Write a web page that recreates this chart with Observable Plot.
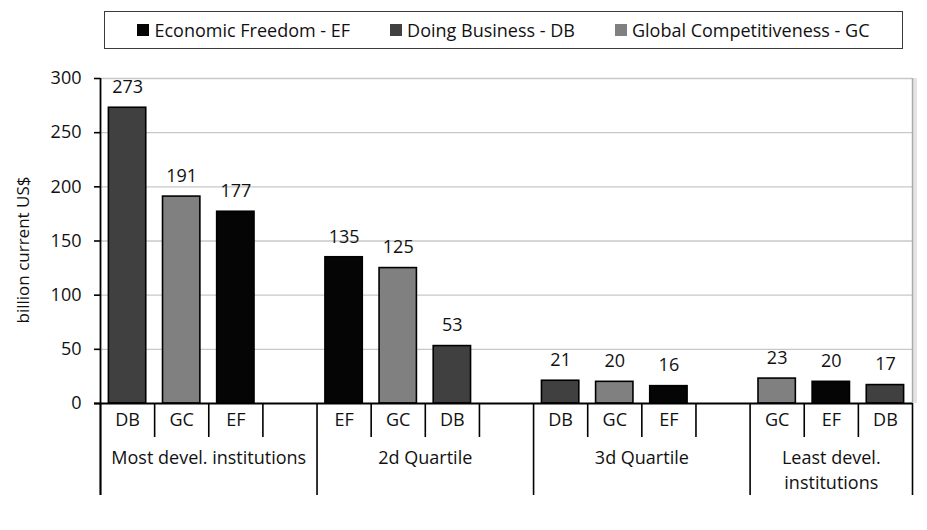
<!DOCTYPE html>
<html><head><meta charset="utf-8">
<script src="https://cdn.jsdelivr.net/npm/d3@7"></script>
<script src="https://cdn.jsdelivr.net/npm/@observablehq/plot@0.6"></script>
<style>
body{margin:0;background:#fff;font-family:"Open Sans",sans-serif;}
#wrap{position:relative;width:927px;height:530px;overflow:hidden;}
#legend{position:absolute;left:104px;top:11px;width:799px;height:38px;border:1.5px solid #3a3a3a;box-sizing:border-box;display:flex;align-items:center;justify-content:center;gap:40px;font-size:18px;color:#111;}
.item{display:flex;align-items:center;gap:5px;white-space:nowrap}
.sw{width:12px;height:12px;display:inline-block}
#chart{position:absolute;left:0;top:60px;}
</style></head><body>
<div id="wrap"><div id="legend"></div><div id="chart"></div></div>
<script>
// ---- data ----
const seriesCodes = ["EF", "DB", "GC"];
const seriesNames = ["Economic Freedom - EF", "Doing Business - DB", "Global Competitiveness - GC"];
const seriesColors = ["#050505", "#404040", "#808080"];
const groupLabels = ["Most devel. institutions", "2d Quartile", "3d Quartile", "Least devel.\ninstitutions"];
const groupCodes = [["DB", "GC", "EF"], ["EF", "GC", "DB"], ["DB", "GC", "EF"], ["GC", "EF", "DB"]];
const groupValues = [[273, 191, 177], [135, 125, 53], [21, 20, 16], [23, 20, 17]];
const yTicks = [0, 50, 100, 150, 200, 250, 300];
const yLabel = "billion current US$";

// ---- layout: each group gets its bars plus one spacer slot (except the last) ----
const rows = [], groups = [];
let cursor = 0;
groupLabels.forEach((label, g) => {
  const codes = groupCodes[g];
  const nSlots = codes.length + (g < groupLabels.length - 1 ? 1 : 0);
  codes.forEach((code, i) => rows.push({group: label, code, value: groupValues[g][i], slot: cursor + i}));
  groups.push({label, start: cursor, end: cursor + nSlots});
  cursor += nSlots;
});
const totalSlots = cursor;
const innerSeps = groups.flatMap(gr => d3.range(gr.start + 1, gr.end));
const outerSeps = [...groups.map(gr => gr.start), totalSlots];

// ---- legend ----
const legend = document.getElementById("legend");
seriesCodes.forEach((c, i) => {
  const it = document.createElement("div");
  it.className = "item";
  it.innerHTML = `<span class="sw" style="background:${seriesColors[i]}"></span><span>${seriesNames[i]}</span>`;
  legend.appendChild(it);
});

// ---- chart ----
const W = 927, H = 470, mt = 18, mb = 127, ml = 100, mr = 15;
const frameH = H - mt - mb;
const pad = 0.155;
const FONT = "Open Sans, sans-serif";

const chart = Plot.plot({
  width: W, height: H, marginTop: mt, marginBottom: mb, marginLeft: ml, marginRight: mr,
  style: {fontFamily: FONT, fontSize: "18px", color: "#111", background: "transparent"},
  x: {domain: [0, totalSlots], axis: null},
  y: {domain: [0, 300], axis: null},
  color: {domain: seriesCodes, range: seriesColors},
  marks: [
    Plot.ruleY(yTicks.filter(t => t > 0), {stroke: "#c8c8c8", strokeWidth: 1.4}),
    Plot.ruleX([totalSlots], {stroke: "#e4e4e4", strokeWidth: 4, dx: 2.5}),
    Plot.ruleX([totalSlots], {stroke: "#a8a8a8", strokeWidth: 1.4}),
    Plot.rect(rows, {x1: d => d.slot + pad, x2: d => d.slot + 1 - pad, y1: 0, y2: "value",
      fill: "code", stroke: "#000", strokeWidth: 1.6}),
    Plot.text(rows, {x: d => d.slot + 0.5, y: "value", text: d => String(d.value), dy: -20.5, fill: "#111"}),
    Plot.ruleY([0], {stroke: "#000", strokeWidth: 2, insetLeft: -6}),
    Plot.axisY(yTicks, {tickSize: 6, tickPadding: 13, label: null, stroke: "#000", strokeWidth: 1.6, fill: "#111"}),
    Plot.ruleX([0], {stroke: "#000", strokeWidth: 1.8, insetBottom: -92}),
    Plot.ruleX(outerSeps, {stroke: "#000", strokeWidth: 1.6, insetTop: frameH, insetBottom: -92}),
    Plot.ruleX(innerSeps, {stroke: "#000", strokeWidth: 1.6, insetTop: frameH, insetBottom: -34}),
    Plot.text(rows, {x: d => d.slot + 0.5, frameAnchor: "bottom", text: "code", dy: 22, fill: "#111"}),
    Plot.text(groups, {x: d => (d.start + d.end) / 2, frameAnchor: "bottom", text: "label",
      lineAnchor: "top", dy: 43, lineHeight: 1.37, fill: "#111"}),
    Plot.text([yLabel], {frameAnchor: "left", textAnchor: "middle", rotate: -90, dx: -77, dy: 9, fill: "#111", fontSize: 17})
  ]
});
document.getElementById("chart").appendChild(chart);
</script>
</body></html>
